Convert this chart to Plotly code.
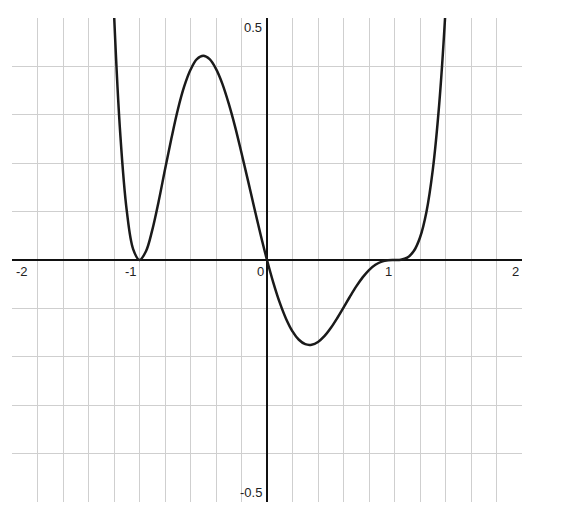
import plotly.graph_objects as go

x_vals = [-1.25,-1.2,-1.15,-1.1,-1.05,-1.0,-0.95,-0.9,-0.85,-0.8,-0.75,-0.7,-0.65,-0.6,-0.55,-0.5,-0.45,-0.4,-0.35,-0.3,-0.25,-0.2,-0.15,-0.1,-0.05,0.0,
          0.05,0.1,0.15,0.2,0.25,0.3,0.35,0.4,0.45,0.5,0.55,0.6,0.65,0.7,0.75,0.8,0.85,0.9,0.95,1.0,1.05,1.1,1.15,1.2,1.25,1.3,1.35,1.4,1.45]
y_vals = [0.890,0.511,0.257,0.102,0.0226,0.0,0.0176,0.0617,0.121,0.187,0.251,0.310,0.358,0.393,0.415,0.422,0.415,0.395,0.364,0.323,0.275,0.221,0.165,0.108,0.0523,0.0,
          -0.0472,-0.0882,-0.1218,-0.1475,-0.1648,-0.1739,-0.175,-0.1693,-0.1574,-0.1406,-0.1204,-0.0983,-0.0759,-0.0546,-0.0359,-0.0207,-0.0098,-0.00325,-0.00045,0.0,
          0.00055,0.00485,0.0179,0.0465,0.0989,0.1857,0.320,0.516,0.793]
x_tick_labels = ["-2", "-1", "0", "1", "2"]
x_tick_pos = [-2, -1, 0, 1, 2]
y_tick_labels = ["0.5", "-0.5"]
y_tick_pos = [0.5, -0.5]

fig = go.Figure(go.Scatter(x=x_vals, y=y_vals, mode="lines",
                           line=dict(color="#1a1a1a", width=2.5, shape="spline")))

font = dict(family="Liberation Sans, Arial", size=13, color="#222")
ann = []
for p, t in zip(x_tick_pos, x_tick_labels):
    ann.append(dict(x=p, y=0, text=t, showarrow=False, xanchor="right" if p != -2 else "left",
                    yanchor="top", xshift=-1 if p != -2 else 2, yshift=-2, font=font))
for p, t in zip(y_tick_pos, y_tick_labels):
    ann.append(dict(x=0, y=p, text=t, showarrow=False, xanchor="right", xshift=-3,
                    yanchor="top" if p > 0 else "bottom", font=font))

fig.update_layout(
    width=582, height=511, margin=dict(l=4, r=68, t=10, b=17),
    plot_bgcolor="white", paper_bgcolor="white", showlegend=False,
    xaxis=dict(range=[-2, 2], dtick=0.2, showgrid=True, gridcolor="#cfcfcf", gridwidth=1,
               zeroline=True, zerolinecolor="#111", zerolinewidth=2, showticklabels=False,
               fixedrange=True),
    yaxis=dict(range=[-0.5, 0.5], dtick=0.1, showgrid=True, gridcolor="#cfcfcf", gridwidth=1,
               zeroline=True, zerolinecolor="#111", zerolinewidth=2, showticklabels=False,
               fixedrange=True),
    annotations=ann,
)
fig.write_html("out.html")
